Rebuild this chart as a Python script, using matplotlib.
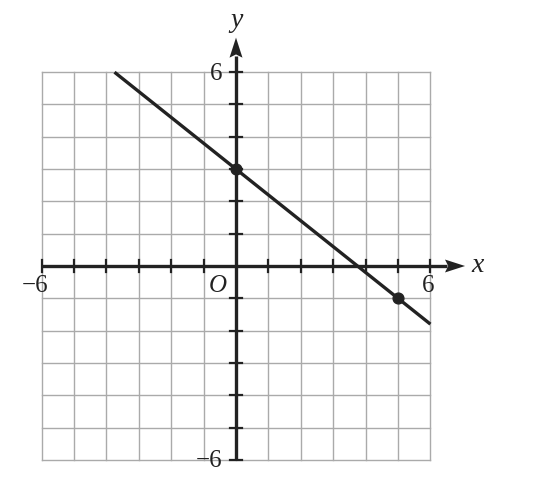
import matplotlib
matplotlib.use("Agg")
import matplotlib.pyplot as plt
from matplotlib.patches import Polygon
import numpy as np

# ---- data ----
grid_vals = list(range(-6, 7))
tick_vals = list(range(-6, 7))
point_x = [0, 5]
point_y = [3, -1]
line_x = [-3.75, 6]
x_tick_labels = {-6: "\u22126", 6: "6"}
y_tick_labels = {-6: "\u22126", 6: "6"}

slope = (point_y[1] - point_y[0]) / (point_x[1] - point_x[0])
line_y = [point_y[0] + slope * (xv - point_x[0]) for xv in line_x]

plt.rcParams['font.family'] = ['Liberation Serif', 'DejaVu Serif']

fig = plt.figure(figsize=(5.34, 4.98), dpi=100)
ax = fig.add_axes([0, 0, 1, 1])
ax.set_xlim(-236 / 32.4, (534 - 236) / 32.4)
ax.set_ylim((266 - 498) / 32.3, 266 / 32.3)
ax.axis('off')

grid_color = '#aaaaaa'
dark = '#222222'

for g in grid_vals:
    ax.plot([g, g], [-6, 6], color=grid_color, lw=1.0, zorder=1)
    ax.plot([-6, 6], [g, g], color=grid_color, lw=1.0, zorder=1)

# axes
tip = 7.07
base = 6.45
hw = 0.2
ax.plot([-6, base + 0.05], [0, 0], color=dark, lw=2.4, zorder=3, solid_capstyle='butt')
ax.plot([0, 0], [-6, base + 0.05], color=dark, lw=2.4, zorder=3, solid_capstyle='butt')
ax.add_patch(Polygon([[tip, 0], [base, hw], [base + 0.1, 0], [base, -hw]],
                     closed=True, color=dark, zorder=4, lw=0))
ax.add_patch(Polygon([[0, tip], [hw, base], [0, base + 0.1], [-hw, base]],
                     closed=True, color=dark, zorder=4, lw=0))

tl = 0.2
for t in tick_vals:
    if t == 0:
        continue
    ax.plot([t, t], [-tl, tl], color=dark, lw=1.6, zorder=3)
    ax.plot([-tl, tl], [t, t], color=dark, lw=1.6, zorder=3)

# line and points
ax.plot(line_x, line_y, color=dark, lw=2.4, zorder=5, solid_capstyle='butt')
ax.scatter(point_x, point_y, s=60, color=dark, zorder=6)

fs = 18
ax.text(-6.2, -0.62, x_tick_labels[-6], ha='center', va='center', fontsize=fs, color=dark)
ax.text(5.92, -0.62, x_tick_labels[6], ha='center', va='center', fontsize=fs, color=dark)
ax.text(-0.62, 5.95, y_tick_labels[6], ha='center', va='center', fontsize=fs, color=dark)
ax.text(-0.82, -6.05, y_tick_labels[-6], ha='center', va='center', fontsize=fs, color=dark)
ax.text(-0.55, -0.62, "O", ha='center', va='center', fontsize=fs, style='italic', color=dark)
ax.text(7.45, 0.0, "x", ha='center', va='center', fontsize=20, style='italic', color=dark)
ax.text(0.0, 7.6, "y", ha='center', va='center', fontsize=20, style='italic', color=dark)

fig.savefig("out.png", dpi=100)
